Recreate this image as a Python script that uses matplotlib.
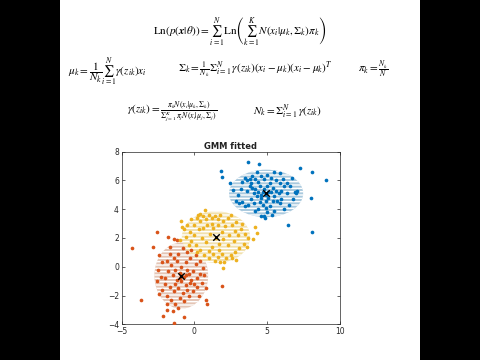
import numpy as np
import matplotlib
matplotlib.use("Agg")
import matplotlib.pyplot as plt
from matplotlib.patches import Ellipse, Rectangle

plt.rcParams['mathtext.fontset'] = 'stix'

# ---- data ----
blue_x = [3.72, 4.43, 1.83, 1.92, 2.45, 2.68, 7.26, 8.08, 9.05, 8.04, 6.48, 8.08, 4.82, 4.87, 5.33,
          3.0, 3.3, 3.5, 3.6, 3.8, 3.9, 4.0, 4.2, 4.4, 4.6, 4.8, 5.0, 5.3, 5.6, 5.9, 6.1, 6.4, 6.6, 6.9,
          7.0, 7.1, 6.8, 6.5, 6.2, 5.9, 5.7, 5.5, 5.3, 5.1, 4.9, 4.7, 4.5, 4.3, 4.1, 3.9, 3.7, 3.5, 3.3,
          3.1, 2.9, 3.2, 3.6, 4.0, 4.2, 4.4, 4.6, 4.8, 5.0, 5.2, 5.4, 5.6, 5.8, 6.0, 6.2, 6.4, 5.9, 4.5,
          4.7, 4.9, 5.1, 4.6, 4.9, 5.2, 5.5, 5.0, 4.4, 4.1, 3.8, 4.3, 5.5, 6.7, 6.0, 5.4, 4.6, 4.2]
blue_y = [7.31, 7.12, 6.66, 6.26, 5.80, 5.34, 6.89, 6.61, 6.01, 4.76, 2.91, 2.40, 3.55, 3.37, 3.60,
          5.0, 5.9, 6.2, 6.0, 6.1, 5.8, 6.3, 6.1, 5.9, 6.3, 6.1, 6.4, 6.2, 6.0, 6.5, 6.1, 5.8, 5.6, 5.2,
          5.1, 5.3, 4.7, 4.3, 4.0, 4.4, 4.6, 4.9, 5.2, 4.8, 4.6, 4.3, 4.5, 4.9, 5.1, 4.7, 4.3, 4.2, 4.5,
          4.4, 4.6, 5.4, 5.3, 5.5, 5.4, 5.2, 5.0, 5.4, 5.6, 5.8, 5.5, 5.3, 5.1, 5.3, 5.6, 5.1, 5.8, 5.6,
          5.2, 5.0, 5.2, 4.8, 4.1, 4.2, 3.9, 3.8, 4.0, 4.4, 5.6, 6.6, 6.6, 6.2, 4.7, 4.6, 3.5, 3.9]

yel_x = [0.73, -0.91, -0.86, 0.22, 4.20, 4.32, 4.04, 1.95, 2.02, 2.59, -0.97,
         -0.5, -0.3, -0.2, 0.0, 0.2, 0.4, 0.6, 0.8, 1.0, 1.2, 1.4, 1.6, 1.8, 2.0, 2.3, 2.6, 2.9, 3.2,
         3.5, 3.7, 3.4, 3.1, 2.8, 2.5, 2.2, 1.9, 1.6, 1.3, 1.0, 0.7, 0.4, 0.1, -0.2, -0.4, -0.6, 0.0,
         0.3, 0.5, 0.8, 1.1, 1.3, 1.5, 1.7, 1.9, 2.1, 2.4, 2.7, 3.0, 2.3, 1.2, 0.6, 1.6, 2.0, 1.0, 1.4,
         1.7, 0.9, 2.8, 3.3, -0.7, 0.2, 1.8, 2.5, 1.2, 0.4, 3.6, 2.9]
yel_y = [3.95, 3.18, 2.74, 3.60, 2.74, 2.32, 1.91, -0.06, 0.36, 0.59, 1.86,
         2.9, 2.4, 3.3, 2.9, 3.4, 3.2, 3.5, 3.3, 3.6, 3.4, 3.5, 3.3, 3.6, 3.2, 3.4, 2.9, 3.1, 2.6,
         2.3, 2.0, 1.6, 1.3, 1.0, 0.8, 0.6, 0.9, 0.7, 0.9, 1.1, 0.8, 1.2, 1.5, 1.8, 1.5, 2.1, 2.2,
         2.6, 2.0, 1.7, 2.3, 2.7, 2.0, 1.6, 2.4, 2.8, 2.2, 1.8, 2.2, 1.5, 1.4, 2.7, 2.9, 1.9, 0.6, 0.4,
         1.2, 2.9, 2.5, 3.0, 2.6, 1.0, 0.3, 3.6, 3.0, 3.7, 1.4, 0.5]

red_x = [-4.26, -3.64, -2.81, -2.54, -1.78, -1.43, -1.16, 1.90, -2.17, -1.43, -0.68, 0.87, 0.77, -1.9,
         -2.4, -2.2, -2.5, -2.3, -2.0, -2.2, -1.9, -1.6, -1.3, -1.0, -0.7, -0.4, -0.1, 0.2, 0.5, 0.7,
         0.6, 0.4, 0.1, -0.2, -0.5, -0.8, -1.1, -1.4, -1.7, -1.9, -1.6, -1.3, -1.0, -0.7, -0.4, -0.1,
         0.2, -0.3, -0.6, -0.9, -1.2, -1.5, -1.8, -2.0, -1.7, -1.4, -1.1, -0.8, -0.5, -0.2, 0.1, -0.6,
         -0.9, -1.2, -0.5, -1.0, -0.3, 0.3, -1.9, -1.5, -1.1, -0.9, -0.6, -1.3, 0.0, 0.4, -2.6, -2.4,
         -1.7, 0.8]
red_y = [1.28, -2.31, 1.35, 2.39, 2.09, 1.91, 1.86, -1.34, -3.42, -3.93, -3.47, -2.59, -2.31, -3.0,
         0.8, 0.3, -0.2, -0.7, -1.2, -1.6, -2.0, -2.3, -2.6, -2.2, -2.4, -2.0, -1.7, -1.4, -1.1, -0.6,
         -0.1, 0.4, 0.8, 1.2, 1.0, 1.3, 0.9, 0.6, 0.9, 0.4, 0.1, -0.2, -0.4, -0.7, -0.5, -0.3,
         -0.8, -1.1, -1.3, -1.0, -0.9, -0.6, -0.3, -0.8, -1.4, -1.7, -1.5, -1.8, -1.6, -0.9, 0.2, 0.3,
         0.0, 0.4, -0.2, -0.8, 0.6, -2.0, -2.6, -3.1, -2.9, -0.6, -0.6, -1.2, -1.2, -0.5, -1.0, -1.9,
         1.4, -1.5]

# fitted components: centre x, centre y, width, height
comp_names = ['blue', 'red', 'yellow']
comp_cx = [4.94, -0.90, 1.49]
comp_cy = [5.10, -0.62, 2.06]
comp_w = [5.1, 3.7, 4.7]
comp_h = [3.3, 4.6, 3.6]

x_ticks = [-5, 0, 5, 10]
y_ticks = [-4, -2, 0, 2, 4, 6, 8]

col_blue = '#0072BD'
col_red = '#D95319'
col_yel = '#EDB120'
fill_cols = {'blue': '#a9c9de', 'red': '#e4c5b5', 'yellow': '#f1e1ad'}

# ---- figure ----
fig = plt.figure(figsize=(4.8, 3.6), dpi=100, facecolor='black')
fig.patches.append(Rectangle((60 / 480, 0), 360 / 480, 1, transform=fig.transFigure,
                             facecolor='white', edgecolor='none', zorder=-5))

fs = 8
fig.text(0.5, 0.915,
         r'$\mathrm{Ln}\left(p(\boldsymbol{x}|\theta)\right) = \sum_{i=1}^{N}\mathrm{Ln}\left(\sum_{k=1}^{K}N(x_i|\mu_k,\Sigma_k)\pi_k\right)$',
         ha='center', va='center', fontsize=fs)
fig.text(0.142, 0.80, r'$\mu_k = \dfrac{1}{N_k}\sum_{i=1}^{N}\gamma(z_{ik})x_i$',
         ha='left', va='center', fontsize=fs)
fig.text(0.370, 0.805, r'$\Sigma_k = \frac{1}{N_k}\Sigma_{i=1}^{N}\,\gamma(z_{ik})(x_i-\mu_k)(x_i-\mu_k)^T$',
         ha='left', va='center', fontsize=fs)
fig.text(0.745, 0.805, r'$\pi_k = \frac{N_k}{N}$', ha='left', va='center', fontsize=fs)
fig.text(0.265, 0.69, r'$\gamma(z_{ik}) = \frac{\pi_k N(x_i|\mu_k,\Sigma_k)}{\Sigma_{j=1}^{K}\,\pi_j N(x_i|\mu_j,\Sigma_j)}$',
         ha='left', va='center', fontsize=fs)
fig.text(0.527, 0.69, r'$N_k = \Sigma_{i=1}^{N}\,\gamma(z_{ik})$', ha='left', va='center', fontsize=fs)

ax = fig.add_axes([0.2535, 0.0992, 0.454, 0.4794])
ax.set_facecolor('white')

plt.rcParams['hatch.linewidth'] = 1.0
for name, cx, cy, w, h in zip(comp_names, comp_cx, comp_cy, comp_w, comp_h):
    e = Ellipse((cx, cy), w, h, facecolor=fill_cols[name], edgecolor='white',
                linewidth=0, hatch='-----', zorder=1)
    ax.add_patch(e)

ms = 7
ax.scatter(blue_x, blue_y, s=ms, color=col_blue, zorder=3, linewidths=0)
ax.scatter(red_x, red_y, s=ms, color=col_red, zorder=3, linewidths=0)
ax.scatter(yel_x, yel_y, s=ms, color=col_yel, zorder=3, linewidths=0)
ax.scatter(comp_cx, comp_cy, marker='x', s=22, color='black', linewidths=1.0, zorder=4)

ax.set_xlim(-5, 10)
ax.set_ylim(-4, 8)
ax.set_xticks(x_ticks)
ax.set_yticks(y_ticks)
ax.tick_params(direction='in', length=2.5, width=0.5, labelsize=5.5, colors='#262626',
               top=True, right=True, pad=2)
for sp in ax.spines.values():
    sp.set_linewidth(0.5)
    sp.set_color('#262626')
ax.set_title('GMM fitted', fontsize=6, fontweight='bold', color='#222222', pad=2)

fig.savefig('out.png', dpi=100, facecolor='black')
